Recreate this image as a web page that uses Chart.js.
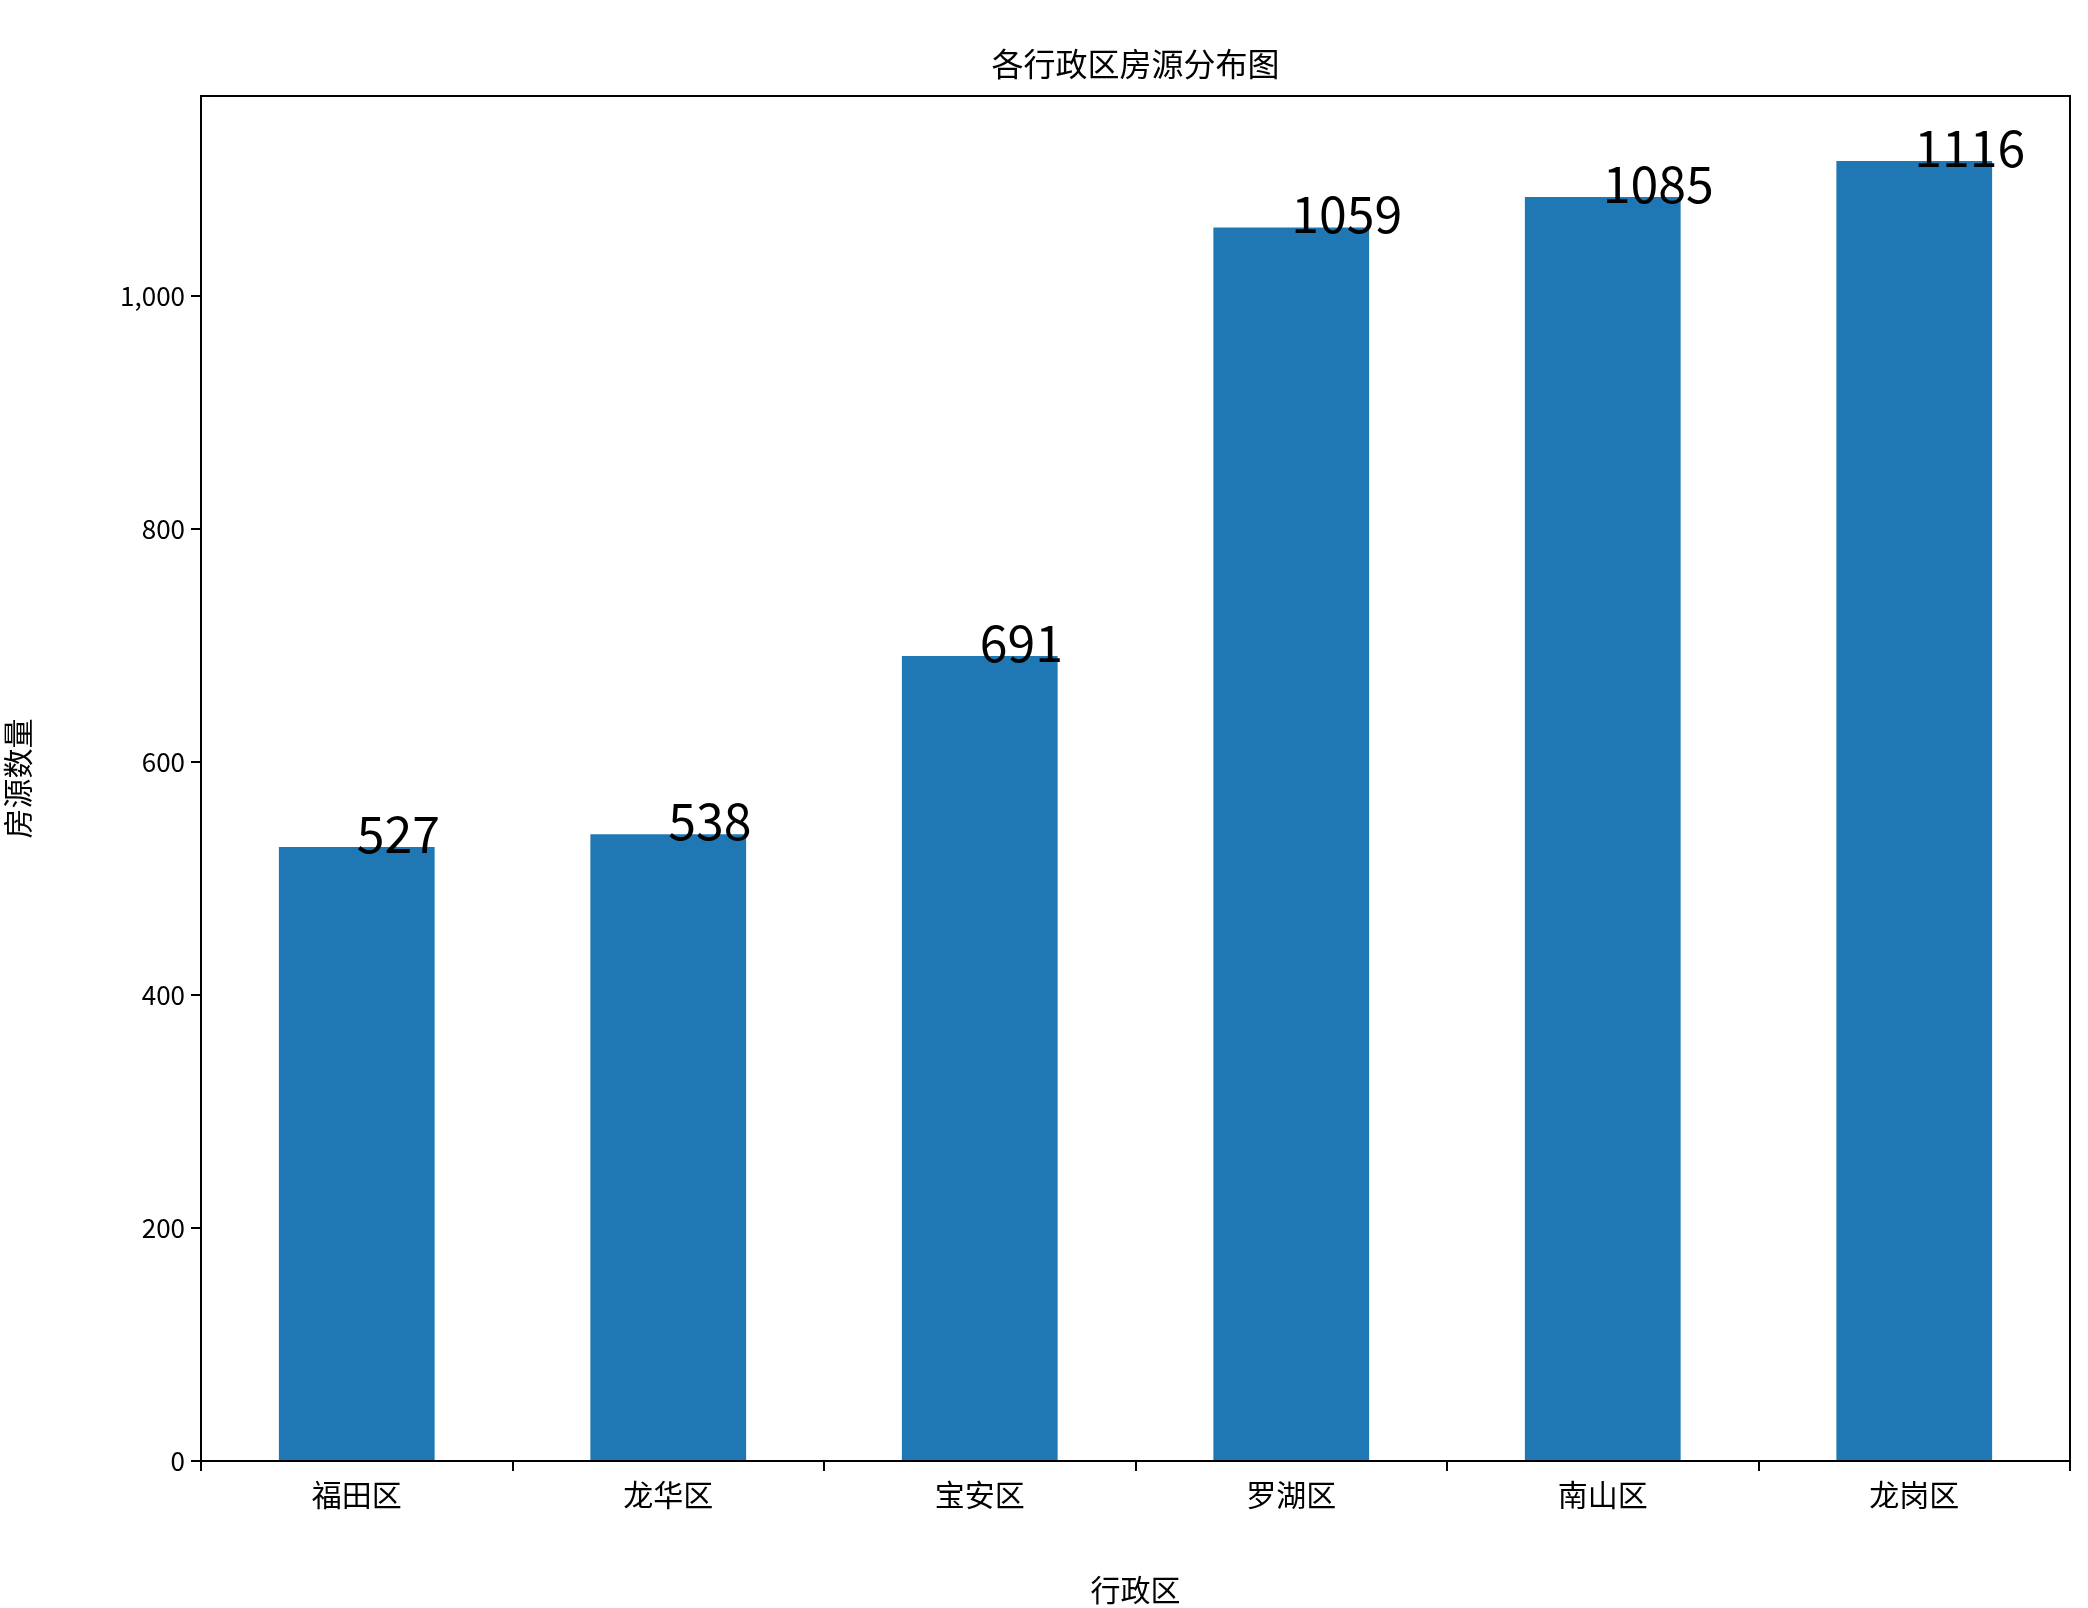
<!DOCTYPE html>
<html>
<head>
<meta charset="utf-8">
<script src="https://cdn.jsdelivr.net/npm/chart.js@4/dist/chart.umd.min.js"></script>
<style>
  body { margin: 0; background: #fff; }
  #wrap { width: 2088px; height: 1608px; }
</style>
</head>
<body>
<div id="wrap"><canvas id="chart" width="2088" height="1608"></canvas></div>
<script>
const districts = ['福田区', '龙华区', '宝安区', '罗湖区', '南山区', '龙岗区'];
const counts = [527, 538, 691, 1059, 1085, 1116];
const yTicks = [0, 200, 400, 600, 800, 1000];

const FONT = "'Noto Sans CJK SC', 'DejaVu Sans', sans-serif";

const framePlugin = {
    id: 'frame',
    afterDraw(chart) {
        const { ctx, chartArea: a } = chart;
        ctx.save();
        ctx.strokeStyle = '#000';
        ctx.lineWidth = 2;
        ctx.strokeRect(a.left, a.top, a.right - a.left, a.bottom - a.top);
        // title
        ctx.fillStyle = '#000';
        ctx.font = `32px ${FONT}`;
        ctx.textAlign = 'center';
        ctx.textBaseline = 'bottom';
        ctx.fillText('各行政区房源分布图', (a.left + a.right) / 2, a.top - 16);
        // value labels
        const meta = chart.getDatasetMeta(0);
        ctx.font = `50px ${FONT}`;
        ctx.textAlign = 'left';
        ctx.textBaseline = 'alphabetic';
        meta.data.forEach((bar, i) => {
            ctx.fillText(String(counts[i]), bar.x, bar.y + 6);
        });
        ctx.restore();
    }
};

new Chart(document.getElementById('chart'), {
    type: 'bar',
    data: {
        labels: districts,
        datasets: [{
            data: counts,
            backgroundColor: '#1f77b4',
            categoryPercentage: 1,
            barPercentage: 0.5
        }]
    },
    options: {
        responsive: false,
        animation: false,
        devicePixelRatio: 1,
        layout: { padding: { left: 0, right: 18, top: 96, bottom: 0 } },
        plugins: { legend: { display: false }, tooltip: { enabled: false } },
        scales: {
            x: {
                grid: { display: true, drawOnChartArea: false, drawTicks: true, tickLength: 10, color: '#000', lineWidth: 2 },
                border: { display: false },
                ticks: { color: '#000', font: { family: FONT, size: 30 }, padding: 6 },
                title: { display: true, text: '行政区', color: '#000', font: { family: FONT, size: 30 }, padding: 0 },
                afterFit(s) { s.height = 147; }
            },
            y: {
                min: 0,
                max: 1171.8,
                afterBuildTicks(s) { s.ticks = yTicks.map(v => ({ value: v })); },
                grid: { display: true, drawOnChartArea: false, drawTicks: true, tickLength: 10, color: '#000', lineWidth: 2 },
                border: { display: false },
                ticks: { color: '#000', font: { family: FONT, size: 26 }, padding: 6 },
                title: { display: true, text: '房源数量', color: '#000', font: { family: FONT, size: 30 }, padding: 0 },
                afterFit(s) { s.width = 201; }
            }
        }
    },
    plugins: [framePlugin]
});
</script>
</body>
</html>
